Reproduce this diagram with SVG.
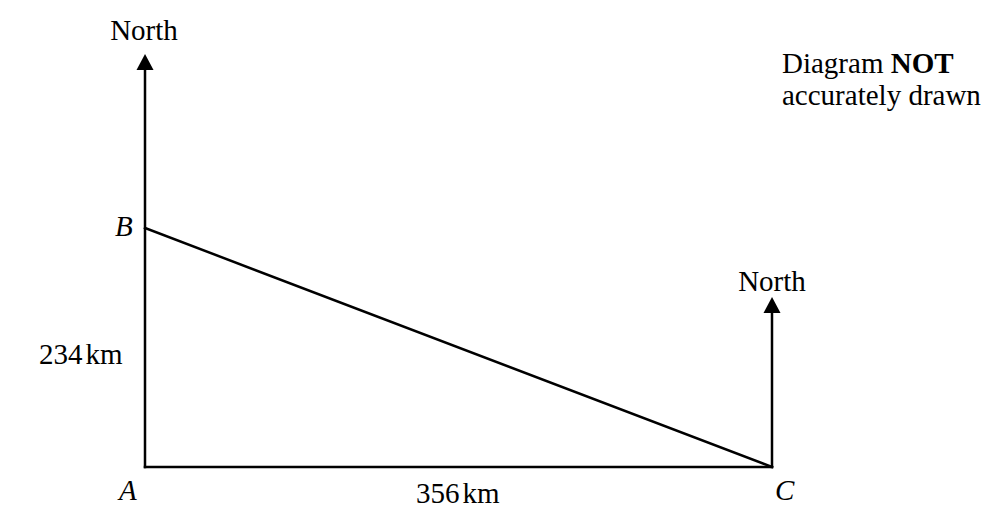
<svg xmlns="http://www.w3.org/2000/svg" width="1000" height="521" viewBox="0 0 1000 521">
<style>
.ln{stroke:#000;stroke-width:2.5;fill:none;stroke-linecap:square}
.t{font-family:"Liberation Serif","Times New Roman",serif;font-size:29px;fill:#000}
.i{font-style:italic}
</style>
<rect width="1000" height="521" fill="#fff"/>
<g id="connectors">
<line class="ln" x1="145" y1="68" x2="145" y2="467"/>
<polygon points="145,54 136.5,70 153.5,70" fill="#000"/>
<line class="ln" x1="145" y1="467" x2="772" y2="467"/>
<line class="ln" x1="145" y1="228" x2="772" y2="467"/>
<line class="ln" x1="772" y1="312" x2="772" y2="467"/>
<polygon points="772,297 763.5,313 780.5,313" fill="#000"/>
</g>
<g id="north-A"><text class="t" x="144" y="40" text-anchor="middle">North</text></g>
<g id="north-C"><text class="t" x="772" y="291" text-anchor="middle">North</text></g>
<g id="B"><text class="t i" x="115" y="236">B</text></g>
<g id="A"><text class="t i" x="119" y="500">A</text></g>
<g id="C"><text class="t i" x="775" y="500">C</text></g>
<g id="len-AB"><text class="t" x="39" y="364">234<tspan dx="3">km</tspan></text></g>
<g id="len-AC"><text class="t" x="416" y="503">356<tspan dx="3">km</tspan></text></g>
<g id="note"><text class="t" x="782" y="73">Diagram <tspan font-weight="bold">NOT</tspan></text>
<text class="t" x="782" y="105">accurately drawn</text></g>
</svg>
